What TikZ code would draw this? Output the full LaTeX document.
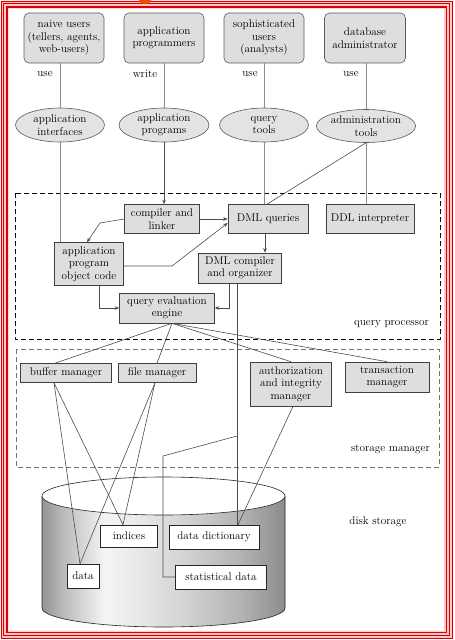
\documentclass[tikz,border=0pt]{standalone}
\usetikzlibrary{shapes.geometric,arrows.meta,calc}
\newcommand\dfont{\fontsize{11.2}{12.5}\selectfont}
\pgfdeclarehorizontalshading{cylshade}{100bp}{color(0bp)=(black!42); color(25bp)=(black!42); color(30bp)=(black!25); color(38bp)=(black!4); color(45bp)=(black!9); color(55bp)=(black!18); color(66bp)=(black!30); color(75bp)=(black!45); color(100bp)=(black!45)}
\begin{document}
\begin{tikzpicture}[x=1pt,y=-1pt,
  every node/.style={font=\dfont, inner sep=0pt, align=center},
  ubox/.style={draw=black!65, fill=black!13, rounded corners=5pt, line width=0.6pt},
  gbox/.style={draw=black!75, fill=black!13, line width=0.6pt},
  ell/.style={ellipse, draw=black!65, fill=black!11, line width=0.6pt},
  wbox/.style={draw=black!85, fill=white, line width=0.6pt},
  ln/.style={draw=black!70, line width=0.6pt},
  lnl/.style={draw=black!45, line width=0.6pt},
  arr/.style={ln, -{Stealth[length=4.5pt,width=3.6pt]}},
  dashbox/.style={dash pattern=on 5pt off 3pt, line width=0.6pt},
  lbl/.style={font=\dfont}]
\useasboundingbox (0,0) rectangle (455,640);
% frame
\fill[red!22, even odd rule] (0.5,0.5) rectangle (452.5,638.5) (8.5,8.5) rectangle (444,630.5);
\draw[red!85!black, line width=1pt] (1,1) rectangle (452,638);
\draw[red!85!black, line width=1pt] (3.8,3.8) rectangle (449.2,635.3);
\draw[red!85!black, line width=1.4pt] (6.8,6.8) rectangle (446.2,632.5);
\fill[orange!70!red!90!black] (139,0) arc[start angle=180, end angle=0, x radius=6, y radius=4] -- cycle;

% users
\node[ubox, minimum width=80, minimum height=50] (naive) at (64,38) {naive users\\(tellers, agents,\\web-users)};
\node[ubox, minimum width=80, minimum height=50] (aprog) at (164,38) {application\\programmers};
\node[ubox, minimum width=80, minimum height=50] (soph) at (264,38) {sophisticated\\users\\(analysts)};
\node[ubox, minimum width=81, minimum height=50] (dba) at (365,38) {database\\administrator};
\node[lbl] (u1) at (45,74) {use};
\node[lbl] (u2) at (145,74) {write};
\node[lbl] (u3) at (250,74) {use};
\node[lbl] (u4) at (351,74) {use};

% tools
\node[ell, minimum width=89, minimum height=34] (appint) at (60,125) {application\\interfaces};
\node[ell, minimum width=90, minimum height=34] (appprg) at (164,125) {application\\programs};
\node[ell, minimum width=89, minimum height=34] (qtools) at (264,125) {query\\tools};
\node[ell, minimum width=89, minimum height=33] (admtools) at (366,126) {administration\\tools};

% query processor
\draw[dashbox] (15,193) rectangle (440,339);
\node[lbl, anchor=east] (qplbl) at (429,324) {query processor};
\node[gbox, minimum width=75, minimum height=29] (compiler) at (162,219) {compiler and\\linker};
\node[gbox, minimum width=80, minimum height=29] (dmlq) at (268,219) {DML queries};
\node[gbox, minimum width=88, minimum height=29] (ddl) at (370,219) {DDL interpreter};
\node[gbox, minimum width=69, minimum height=43] (objcode) at (89,264) {application\\program\\object code};
\node[gbox, minimum width=83, minimum height=30] (dmlc) at (240,268) {DML compiler\\and organizer};
\node[gbox, minimum width=95, minimum height=30] (qee) at (167,308) {query evaluation\\engine};

% storage manager
\draw[dashbox, black!55] (16,349) rectangle (439,467);
\node[lbl, anchor=east] (smlbl) at (430,449) {storage manager};
\node[gbox, minimum width=91, minimum height=19] (buf) at (66,373) {buffer manager};
\node[gbox, minimum width=78, minimum height=19] (file) at (157,373) {file manager};
\node[gbox, minimum width=81, minimum height=44] (auth) at (291,384) {authorization\\and integrity\\manager};
\node[gbox, minimum width=84, minimum height=30] (trans) at (387,377) {transaction\\manager};

% disk
\shade[shading=cylshade] (42,496) -- (42,608) arc[start angle=180, end angle=0, x radius=121.5, y radius=19] -- (285,496) -- cycle;
\draw[black!85, line width=0.6pt] (42,496) -- (42,608) arc[start angle=180, end angle=0, x radius=121.5, y radius=19] -- (285,496);
\draw[black!85, fill=white, line width=0.6pt] (163.5,496) ellipse[x radius=121.5, y radius=19];
\node[lbl] (dslbl) at (378,522) {disk storage};
\node[wbox, minimum width=57, minimum height=22] (indices) at (129,536) {indices};
\node[wbox, minimum width=90, minimum height=24] (ddict) at (214,537) {data dictionary};
\node[wbox, minimum width=32, minimum height=24] (data) at (83,576) {data};
\node[wbox, minimum width=91, minimum height=24] (stat) at (221,577) {statistical data};

% connectors: users to tools
\draw[lnl] (appint.north |- naive.south) -- (appint.north);
\draw[lnl] (appprg.north |- aprog.south) -- (appprg.north);
\draw[lnl] (qtools.north |- soph.south) -- (qtools.north);
\draw[lnl] (admtools.north |- dba.south) -- (admtools.north);
% tools to query processor
\draw[lnl] (appint.south) -- (appint.south |- objcode.north);
\draw[arr] (appprg.south) -- (appprg.south |- compiler.north);
\draw[lnl] (qtools.south) -- (qtools.south |- dmlq.north);
\draw[ln] (admtools.south) -- ([xshift=-1pt]dmlq.north);
\draw[lnl] (admtools.south) -- (admtools.south |- ddl.north);
% inside query processor
\draw[arr] (compiler.east) -- (dmlq.west);
\coordinate (c1) at (100,223);
\draw[arr] (compiler.west) -- (c1) -- ([xshift=-2pt]objcode.north);
\coordinate (c2) at (172,266);
\draw[arr] ([yshift=-2pt]objcode.east) -- (c2) -- ([yshift=-4pt]dmlq.west);
\draw[arr] ([xshift=-3pt]dmlq.south) -- ([xshift=-3pt]dmlq.south |- dmlc.north);
\draw[arr] ([xshift=10pt]objcode.south) |- (qee.west);
\draw[arr] ([xshift=-11pt]dmlc.south) |- (qee.east);
% dml compiler to data dictionary & statistical data
\draw[ln] ([xshift=-3pt]dmlc.south) -- ([xshift=-3pt]dmlc.south |- ddict.north);
\coordinate (br) at (237,436);
\coordinate (bend) at (163,456);
\draw[ln] (br) -- (bend) |- (stat.west);
% query evaluation engine to storage manager
\draw[ln] ([xshift=5pt]qee.south) -- ([xshift=-11pt]buf.north);
\draw[ln] ([xshift=5pt]qee.south) -- (file.north);
\draw[ln] ([xshift=5pt]qee.south) -- (auth.north);
\draw[ln] ([xshift=5pt]qee.south) -- (trans.north);
% storage manager to disk
\draw[ln] ([xshift=-12pt]buf.south) -- ([xshift=-3pt]data.north);
\draw[ln] ([xshift=-12pt]buf.south) -- ([xshift=-6pt]indices.north);
\draw[ln] ([xshift=-2pt]file.south) -- ([xshift=-3pt]data.north);
\draw[ln] ([xshift=-2pt]file.south) -- ([xshift=-6pt]indices.north);
\draw[ln] ([xshift=2pt]auth.south) -- ([xshift=24pt]ddict.north);
\end{tikzpicture}
\end{document}
